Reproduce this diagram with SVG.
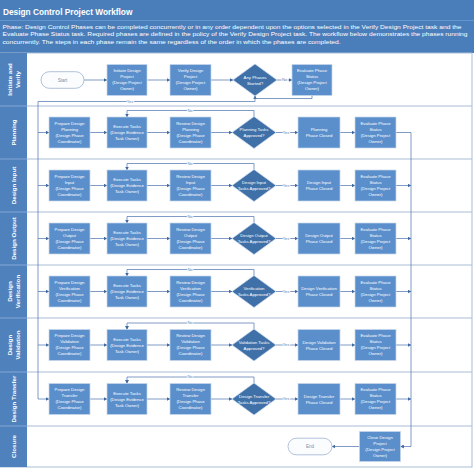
<svg xmlns="http://www.w3.org/2000/svg" width="474" height="468" viewBox="0 0 474 468">
<style>
.hdr{fill:#4a7ebb}
.col{fill:#4f81bd}
.box{fill:#5a8fcc;stroke:#c9d8ec;stroke-width:0.7}
.dia{fill:#3f70a8;stroke:#c9d8ec;stroke-width:0.7}
.pill{fill:#fbfcfe;stroke:#9db3d2;stroke-width:0.8}
.bt{font-family:"Liberation Sans",Arial,sans-serif;font-size:4.3px;fill:#ffffff;text-anchor:middle}
.pt{font-family:"Liberation Sans",Arial,sans-serif;font-size:4.6px;fill:#7d8fa8;text-anchor:middle}
.conn{stroke:#5f82b6;stroke-width:0.8;fill:none}
.arr{marker-end:url(#ah)}
.lab{font-family:"Liberation Sans",Arial,sans-serif;font-size:4px;fill:#5f7fae;text-anchor:middle;paint-order:stroke;stroke:#ffffff;stroke-width:1.6}
.lane{font-family:"Liberation Sans",Arial,sans-serif;font-size:6.2px;font-weight:bold;fill:#ffffff;text-anchor:middle}
.sep{stroke:#a9bcd6;stroke-width:1}
.csep{stroke:#86a8d6;stroke-width:1}
.desc{font-family:"Liberation Sans",Arial,sans-serif;font-size:6px;fill:#ffffff}
</style>
<defs>
<marker id="ah" markerWidth="4" markerHeight="4" refX="3.4" refY="2" orient="auto" markerUnits="userSpaceOnUse">
<path d="M0,0 L3.6,2 L0,4 Z" fill="#3f6aa0"/>
</marker>
</defs>

<rect x="0" y="0" width="474" height="468" fill="#ffffff"/>
<g id="header">
<rect class="hdr" x="0" y="0" width="474" height="53"/>
<line x1="0" y1="20.5" x2="474" y2="20.5" stroke="#6a9bd0" stroke-width="0.8"/>
<text x="3" y="14.5" font-family="'Liberation Sans',Arial,sans-serif" font-size="8.3" font-weight="bold" fill="#ffffff">Design Control Project Workflow</text>
<text class="desc" x="2.5" y="28.5" textLength="459" lengthAdjust="spacingAndGlyphs">Phase: Design Control Phases can be completed concurrently or in any order dependent upon the options selected in the Verify Design Project task and the</text>
<text class="desc" x="2.5" y="36" textLength="465" lengthAdjust="spacingAndGlyphs">Evaluate Phase Status task. Required phases are defined in the policy of the Verify Design Project task. The workflow below demonstrates the phases running</text>
<text class="desc" x="2.5" y="43.5" textLength="338" lengthAdjust="spacingAndGlyphs">concurrently. The steps in each phase remain the same regardless of the order in which the phases are completed.</text>
</g>

<g id="lanes">
<rect x="0.5" y="53" width="471.5" height="414" fill="#ffffff" stroke="#a9bcd6" stroke-width="1"/>
<rect class="col" x="0" y="53" width="27" height="414"/>
<line class="sep" x1="27" y1="106" x2="472" y2="106"/>
<line class="sep" x1="27" y1="159" x2="472" y2="159"/>
<line class="sep" x1="27" y1="212" x2="472" y2="212"/>
<line class="sep" x1="27" y1="265" x2="472" y2="265"/>
<line class="sep" x1="27" y1="318" x2="472" y2="318"/>
<line class="sep" x1="27" y1="372" x2="472" y2="372"/>
<line class="sep" x1="27" y1="426" x2="472" y2="426"/>
<line class="csep" x1="0" y1="106" x2="27" y2="106"/>
<line class="csep" x1="0" y1="159" x2="27" y2="159"/>
<line class="csep" x1="0" y1="212" x2="27" y2="212"/>
<line class="csep" x1="0" y1="265" x2="27" y2="265"/>
<line class="csep" x1="0" y1="318" x2="27" y2="318"/>
<line class="csep" x1="0" y1="372" x2="27" y2="372"/>
<line class="csep" x1="0" y1="426" x2="27" y2="426"/>
<g transform="translate(13.5,79.5) rotate(-90)"><text class="lane" y="-1.5">Initiate and</text><text class="lane" y="6.3">Verify</text></g>
<g transform="translate(13.5,132.5) rotate(-90)"><text class="lane" y="2.2">Planning</text></g>
<g transform="translate(13.5,185.5) rotate(-90)"><text class="lane" y="2.2">Design Input</text></g>
<g transform="translate(13.5,238.5) rotate(-90)"><text class="lane" y="2.2">Design Output</text></g>
<g transform="translate(13.5,291.5) rotate(-90)"><text class="lane" y="-1.5">Design</text><text class="lane" y="6.3">Verification</text></g>
<g transform="translate(13.5,345) rotate(-90)"><text class="lane" y="-1.5">Design</text><text class="lane" y="6.3">Validation</text></g>
<g transform="translate(13.5,399) rotate(-90)"><text class="lane" y="2.2">Design Transfer</text></g>
<g transform="translate(13.5,446.5) rotate(-90)"><text class="lane" y="2.2">Closure</text></g>
</g>

<g id="connectors">
<!-- Initiate lane -->
<path class="conn arr" d="M84,80 H107"/>
<path class="conn arr" d="M147.5,80 H170"/>
<path class="conn arr" d="M211,80 H233"/>
<path class="conn arr" d="M277,80 H292"/>
<text class="lab" x="284.5" y="81.4">No</text>
<path class="conn arr" d="M312,95.5 V98.5 H255 V96"/>
<path class="conn" d="M255,96 V101.5 H38 V399"/>
<text class="lab" x="130" y="102.9">Yes</text>
<path class="conn arr" d="M38,132.5 H49"/>
<path class="conn arr" d="M38,185.5 H49"/>
<path class="conn arr" d="M38,238.5 H49"/>
<path class="conn arr" d="M38,291.5 H49"/>
<path class="conn arr" d="M38,345 H49"/>
<path class="conn arr" d="M38,399 H49"/>
<!-- Planning -->
<path class="conn arr" d="M90,132.5 H107"/>
<path class="conn arr" d="M147,132.5 H170"/>
<path class="conn arr" d="M211,132.5 H232"/>
<path class="conn arr" d="M276,132.5 H298"/>
<text class="lab" x="286" y="133.9">Yes</text>
<path class="conn arr" d="M340,132.5 H355"/>
<path class="conn arr" d="M254,116.5 V110.5 H127 V117"/>
<text class="lab" x="190" y="111.9">No</text>
<!-- Design Input -->
<path class="conn arr" d="M90,185.5 H107"/>
<path class="conn arr" d="M147,185.5 H170"/>
<path class="conn arr" d="M211,185.5 H232"/>
<path class="conn arr" d="M276,185.5 H298"/>
<text class="lab" x="286" y="186.9">Yes</text>
<path class="conn arr" d="M340,185.5 H355"/>
<path class="conn arr" d="M254,169.5 V163.5 H127 V170"/>
<text class="lab" x="190" y="164.9">No</text>
<path class="conn arr" d="M396,185.5 H411"/>
<!-- Design Output -->
<path class="conn arr" d="M90,238.5 H107"/>
<path class="conn arr" d="M147,238.5 H170"/>
<path class="conn arr" d="M211,238.5 H232"/>
<path class="conn arr" d="M276,238.5 H298"/>
<text class="lab" x="286" y="239.9">Yes</text>
<path class="conn arr" d="M340,238.5 H355"/>
<path class="conn arr" d="M254,222.5 V216.5 H127 V223"/>
<text class="lab" x="190" y="217.9">No</text>
<path class="conn arr" d="M396,238.5 H411"/>
<!-- Design Verification -->
<path class="conn arr" d="M90,291.5 H107"/>
<path class="conn arr" d="M147,291.5 H170"/>
<path class="conn arr" d="M211,291.5 H232"/>
<path class="conn arr" d="M276,291.5 H298"/>
<text class="lab" x="286" y="292.9">Yes</text>
<path class="conn arr" d="M340,291.5 H355"/>
<path class="conn arr" d="M254,275.5 V269.5 H127 V276"/>
<text class="lab" x="190" y="270.9">No</text>
<path class="conn arr" d="M396,291.5 H411"/>
<!-- Design Validation -->
<path class="conn arr" d="M90,345 H107"/>
<path class="conn arr" d="M147,345 H170"/>
<path class="conn arr" d="M211,345 H232"/>
<path class="conn arr" d="M276,345 H298"/>
<text class="lab" x="286" y="346.4">Yes</text>
<path class="conn arr" d="M340,345 H355"/>
<path class="conn arr" d="M254,329 V323 H127 V329.5"/>
<text class="lab" x="190" y="324.4">No</text>
<path class="conn arr" d="M396,345 H411"/>
<!-- Design Transfer -->
<path class="conn arr" d="M90,399 H107"/>
<path class="conn arr" d="M147,399 H170"/>
<path class="conn arr" d="M211,399 H232"/>
<path class="conn arr" d="M276,399 H298"/>
<text class="lab" x="286" y="400.4">Yes</text>
<path class="conn arr" d="M340,399 H355"/>
<path class="conn arr" d="M254,383 V377 H127 V383.5"/>
<text class="lab" x="190" y="378.4">No</text>
<path class="conn arr" d="M396,399 H411"/>
<!-- Evaluate to closure -->
<path class="conn arr" d="M396,132.5 H411 V446.5 H400.5"/>
<path class="conn arr" d="M359.5,446.5 H332"/>
</g>

<!-- Initiate and Verify -->
<g id="start" transform="translate(62.5,80)"><rect class="pill" x="-21.5" y="-8.3" width="43" height="16.6" rx="8.3"/><text class="pt" y="1.6">Start</text></g>
<g id="initiate" transform="translate(127,80)"><rect class="box" x="-20" y="-15.5" width="40" height="31"/><text class="bt"><tspan x="0" y="-8">Initiate Design</tspan><tspan x="0" y="-2">Project</tspan><tspan x="0" y="4">(Design Project</tspan><tspan x="0" y="10">Owner)</tspan></text></g>
<g id="verify" transform="translate(190.5,80)"><rect class="box" x="-20.5" y="-15.5" width="41" height="31"/><text class="bt"><tspan x="0" y="-8">Verify Design</tspan><tspan x="0" y="-2">Project</tspan><tspan x="0" y="4">(Design Project</tspan><tspan x="0" y="10">Owner)</tspan></text></g>
<g id="anyphases" transform="translate(255,80)"><polygon class="dia" points="-22,0 0,-16 22,0 0,16"/><text class="bt"><tspan x="0" y="-1.5">Any Phases</tspan><tspan x="0" y="4.5">Started?</tspan></text></g>
<g id="evaluate0" transform="translate(312,80)"><rect class="box" x="-20" y="-15.5" width="40" height="31"/><text class="bt"><tspan x="0" y="-8">Evaluate Phase</tspan><tspan x="0" y="-2">Status</tspan><tspan x="0" y="4">(Design Project</tspan><tspan x="0" y="10">Owner)</tspan></text></g>

<!-- Planning -->
<g id="prep-planning" transform="translate(69.5,132.5)"><rect class="box" x="-20.5" y="-15.5" width="41" height="31"/><text class="bt"><tspan x="0" y="-8">Prepare Design</tspan><tspan x="0" y="-2">Planning</tspan><tspan x="0" y="4">(Design Phase</tspan><tspan x="0" y="10">Coordinator)</tspan></text></g>
<g id="exec-planning" transform="translate(127,132.5)"><rect class="box" x="-20" y="-15.5" width="40" height="31"/><text class="bt"><tspan x="0" y="-4.5">Execute Tasks</tspan><tspan x="0" y="1.5">(Design Evidence</tspan><tspan x="0" y="7.5">Task Owner)</tspan></text></g>
<g id="rev-planning" transform="translate(190.5,132.5)"><rect class="box" x="-20.5" y="-15.5" width="41" height="31"/><text class="bt"><tspan x="0" y="-8">Review Design</tspan><tspan x="0" y="-2">Planning</tspan><tspan x="0" y="4">(Design Phase</tspan><tspan x="0" y="10">Coordinator)</tspan></text></g>
<g id="dec-planning" transform="translate(254,132.5)"><polygon class="dia" points="-22,0 0,-16 22,0 0,16"/><text class="bt"><tspan x="0" y="-1.5">Planning Tasks</tspan><tspan x="0" y="4.5">Approved?</tspan></text></g>
<g id="closed-planning" transform="translate(319,132.5)"><rect class="box" x="-21" y="-15.5" width="42" height="31"/><text class="bt"><tspan x="0" y="-1.5">Planning</tspan><tspan x="0" y="4.5">Phase Closed</tspan></text></g>
<g id="eval-planning" transform="translate(375.5,132.5)"><rect class="box" x="-20.5" y="-15.5" width="41" height="31"/><text class="bt"><tspan x="0" y="-8">Evaluate Phase</tspan><tspan x="0" y="-2">Status</tspan><tspan x="0" y="4">(Design Project</tspan><tspan x="0" y="10">Owner)</tspan></text></g>

<!-- Design Input -->
<g id="prep-input" transform="translate(69.5,185.5)"><rect class="box" x="-20.5" y="-15.5" width="41" height="31"/><text class="bt"><tspan x="0" y="-8">Prepare Design</tspan><tspan x="0" y="-2">Input</tspan><tspan x="0" y="4">(Design Phase</tspan><tspan x="0" y="10">Coordinator)</tspan></text></g>
<g id="exec-input" transform="translate(127,185.5)"><rect class="box" x="-20" y="-15.5" width="40" height="31"/><text class="bt"><tspan x="0" y="-4.5">Execute Tasks</tspan><tspan x="0" y="1.5">(Design Evidence</tspan><tspan x="0" y="7.5">Task Owner)</tspan></text></g>
<g id="rev-input" transform="translate(190.5,185.5)"><rect class="box" x="-20.5" y="-15.5" width="41" height="31"/><text class="bt"><tspan x="0" y="-8">Review Design</tspan><tspan x="0" y="-2">Input</tspan><tspan x="0" y="4">(Design Phase</tspan><tspan x="0" y="10">Coordinator)</tspan></text></g>
<g id="dec-input" transform="translate(254,185.5)"><polygon class="dia" points="-22,0 0,-16 22,0 0,16"/><text class="bt"><tspan x="0" y="-1.5">Design Input</tspan><tspan x="0" y="4.5">Tasks Approved?</tspan></text></g>
<g id="closed-input" transform="translate(319,185.5)"><rect class="box" x="-21" y="-15.5" width="42" height="31"/><text class="bt"><tspan x="0" y="-1.5">Design Input</tspan><tspan x="0" y="4.5">Phase Closed</tspan></text></g>
<g id="eval-input" transform="translate(375.5,185.5)"><rect class="box" x="-20.5" y="-15.5" width="41" height="31"/><text class="bt"><tspan x="0" y="-8">Evaluate Phase</tspan><tspan x="0" y="-2">Status</tspan><tspan x="0" y="4">(Design Project</tspan><tspan x="0" y="10">Owner)</tspan></text></g>

<!-- Design Output -->
<g id="prep-output" transform="translate(69.5,238.5)"><rect class="box" x="-20.5" y="-15.5" width="41" height="31"/><text class="bt"><tspan x="0" y="-8">Prepare Design</tspan><tspan x="0" y="-2">Output</tspan><tspan x="0" y="4">(Design Phase</tspan><tspan x="0" y="10">Coordinator)</tspan></text></g>
<g id="exec-output" transform="translate(127,238.5)"><rect class="box" x="-20" y="-15.5" width="40" height="31"/><text class="bt"><tspan x="0" y="-4.5">Execute Tasks</tspan><tspan x="0" y="1.5">(Design Evidence</tspan><tspan x="0" y="7.5">Task Owner)</tspan></text></g>
<g id="rev-output" transform="translate(190.5,238.5)"><rect class="box" x="-20.5" y="-15.5" width="41" height="31"/><text class="bt"><tspan x="0" y="-8">Review Design</tspan><tspan x="0" y="-2">Output</tspan><tspan x="0" y="4">(Design Phase</tspan><tspan x="0" y="10">Coordinator)</tspan></text></g>
<g id="dec-output" transform="translate(254,238.5)"><polygon class="dia" points="-22,0 0,-16 22,0 0,16"/><text class="bt"><tspan x="0" y="-1.5">Design Output</tspan><tspan x="0" y="4.5">Tasks Approved?</tspan></text></g>
<g id="closed-output" transform="translate(319,238.5)"><rect class="box" x="-21" y="-15.5" width="42" height="31"/><text class="bt"><tspan x="0" y="-1.5">Design Output</tspan><tspan x="0" y="4.5">Phase Closed</tspan></text></g>
<g id="eval-output" transform="translate(375.5,238.5)"><rect class="box" x="-20.5" y="-15.5" width="41" height="31"/><text class="bt"><tspan x="0" y="-8">Evaluate Phase</tspan><tspan x="0" y="-2">Status</tspan><tspan x="0" y="4">(Design Project</tspan><tspan x="0" y="10">Owner)</tspan></text></g>

<!-- Design Verification -->
<g id="prep-verification" transform="translate(69.5,291.5)"><rect class="box" x="-20.5" y="-15.5" width="41" height="31"/><text class="bt"><tspan x="0" y="-8">Prepare Design</tspan><tspan x="0" y="-2">Verification</tspan><tspan x="0" y="4">(Design Phase</tspan><tspan x="0" y="10">Coordinator)</tspan></text></g>
<g id="exec-verification" transform="translate(127,291.5)"><rect class="box" x="-20" y="-15.5" width="40" height="31"/><text class="bt"><tspan x="0" y="-4.5">Execute Tasks</tspan><tspan x="0" y="1.5">(Design Evidence</tspan><tspan x="0" y="7.5">Task Owner)</tspan></text></g>
<g id="rev-verification" transform="translate(190.5,291.5)"><rect class="box" x="-20.5" y="-15.5" width="41" height="31"/><text class="bt"><tspan x="0" y="-8">Review Design</tspan><tspan x="0" y="-2">Verification</tspan><tspan x="0" y="4">(Design Phase</tspan><tspan x="0" y="10">Coordinator)</tspan></text></g>
<g id="dec-verification" transform="translate(254,291.5)"><polygon class="dia" points="-22,0 0,-16 22,0 0,16"/><text class="bt"><tspan x="0" y="-1.5">Verification</tspan><tspan x="0" y="4.5">Tasks Approved?</tspan></text></g>
<g id="closed-verification" transform="translate(319,291.5)"><rect class="box" x="-21" y="-15.5" width="42" height="31"/><text class="bt"><tspan x="0" y="-1.5">Design Verification</tspan><tspan x="0" y="4.5">Phase Closed</tspan></text></g>
<g id="eval-verification" transform="translate(375.5,291.5)"><rect class="box" x="-20.5" y="-15.5" width="41" height="31"/><text class="bt"><tspan x="0" y="-8">Evaluate Phase</tspan><tspan x="0" y="-2">Status</tspan><tspan x="0" y="4">(Design Project</tspan><tspan x="0" y="10">Owner)</tspan></text></g>

<!-- Design Validation -->
<g id="prep-validation" transform="translate(69.5,345)"><rect class="box" x="-20.5" y="-15.5" width="41" height="31"/><text class="bt"><tspan x="0" y="-8">Prepare Design</tspan><tspan x="0" y="-2">Validation</tspan><tspan x="0" y="4">(Design Phase</tspan><tspan x="0" y="10">Coordinator)</tspan></text></g>
<g id="exec-validation" transform="translate(127,345)"><rect class="box" x="-20" y="-15.5" width="40" height="31"/><text class="bt"><tspan x="0" y="-4.5">Execute Tasks</tspan><tspan x="0" y="1.5">(Design Evidence</tspan><tspan x="0" y="7.5">Task Owner)</tspan></text></g>
<g id="rev-validation" transform="translate(190.5,345)"><rect class="box" x="-20.5" y="-15.5" width="41" height="31"/><text class="bt"><tspan x="0" y="-8">Review Design</tspan><tspan x="0" y="-2">Validation</tspan><tspan x="0" y="4">(Design Phase</tspan><tspan x="0" y="10">Coordinator)</tspan></text></g>
<g id="dec-validation" transform="translate(254,345)"><polygon class="dia" points="-22,0 0,-16 22,0 0,16"/><text class="bt"><tspan x="0" y="-1.5">Validation Tasks</tspan><tspan x="0" y="4.5">Approved?</tspan></text></g>
<g id="closed-validation" transform="translate(319,345)"><rect class="box" x="-21" y="-15.5" width="42" height="31"/><text class="bt"><tspan x="0" y="-1.5">Design Validation</tspan><tspan x="0" y="4.5">Phase Closed</tspan></text></g>
<g id="eval-validation" transform="translate(375.5,345)"><rect class="box" x="-20.5" y="-15.5" width="41" height="31"/><text class="bt"><tspan x="0" y="-8">Evaluate Phase</tspan><tspan x="0" y="-2">Status</tspan><tspan x="0" y="4">(Design Project</tspan><tspan x="0" y="10">Owner)</tspan></text></g>

<!-- Design Transfer -->
<g id="prep-transfer" transform="translate(69.5,399)"><rect class="box" x="-20.5" y="-15.5" width="41" height="31"/><text class="bt"><tspan x="0" y="-8">Prepare Design</tspan><tspan x="0" y="-2">Transfer</tspan><tspan x="0" y="4">(Design Phase</tspan><tspan x="0" y="10">Coordinator)</tspan></text></g>
<g id="exec-transfer" transform="translate(127,399)"><rect class="box" x="-20" y="-15.5" width="40" height="31"/><text class="bt"><tspan x="0" y="-4.5">Execute Tasks</tspan><tspan x="0" y="1.5">(Design Evidence</tspan><tspan x="0" y="7.5">Task Owner)</tspan></text></g>
<g id="rev-transfer" transform="translate(190.5,399)"><rect class="box" x="-20.5" y="-15.5" width="41" height="31"/><text class="bt"><tspan x="0" y="-8">Review Design</tspan><tspan x="0" y="-2">Transfer</tspan><tspan x="0" y="4">(Design Phase</tspan><tspan x="0" y="10">Coordinator)</tspan></text></g>
<g id="dec-transfer" transform="translate(254,399)"><polygon class="dia" points="-22,0 0,-16 22,0 0,16"/><text class="bt"><tspan x="0" y="-1.5">Design Transfer</tspan><tspan x="0" y="4.5">Tasks Approved?</tspan></text></g>
<g id="closed-transfer" transform="translate(319,399)"><rect class="box" x="-21" y="-15.5" width="42" height="31"/><text class="bt"><tspan x="0" y="-1.5">Design Transfer</tspan><tspan x="0" y="4.5">Phase Closed</tspan></text></g>
<g id="eval-transfer" transform="translate(375.5,399)"><rect class="box" x="-20.5" y="-15.5" width="41" height="31"/><text class="bt"><tspan x="0" y="-8">Evaluate Phase</tspan><tspan x="0" y="-2">Status</tspan><tspan x="0" y="4">(Design Project</tspan><tspan x="0" y="10">Owner)</tspan></text></g>

<!-- Closure -->
<g id="close-project" transform="translate(380,446.5)"><rect class="box" x="-20.5" y="-15" width="41" height="30"/><text class="bt"><tspan x="0" y="-8">Close Design</tspan><tspan x="0" y="-2">Project</tspan><tspan x="0" y="4">(Design Project</tspan><tspan x="0" y="10">Owner)</tspan></text></g>
<g id="end" transform="translate(310,446.5)"><rect class="pill" x="-22" y="-8.3" width="44" height="16.6" rx="8.3"/><text class="pt" y="1.6">End</text></g>
</svg>
